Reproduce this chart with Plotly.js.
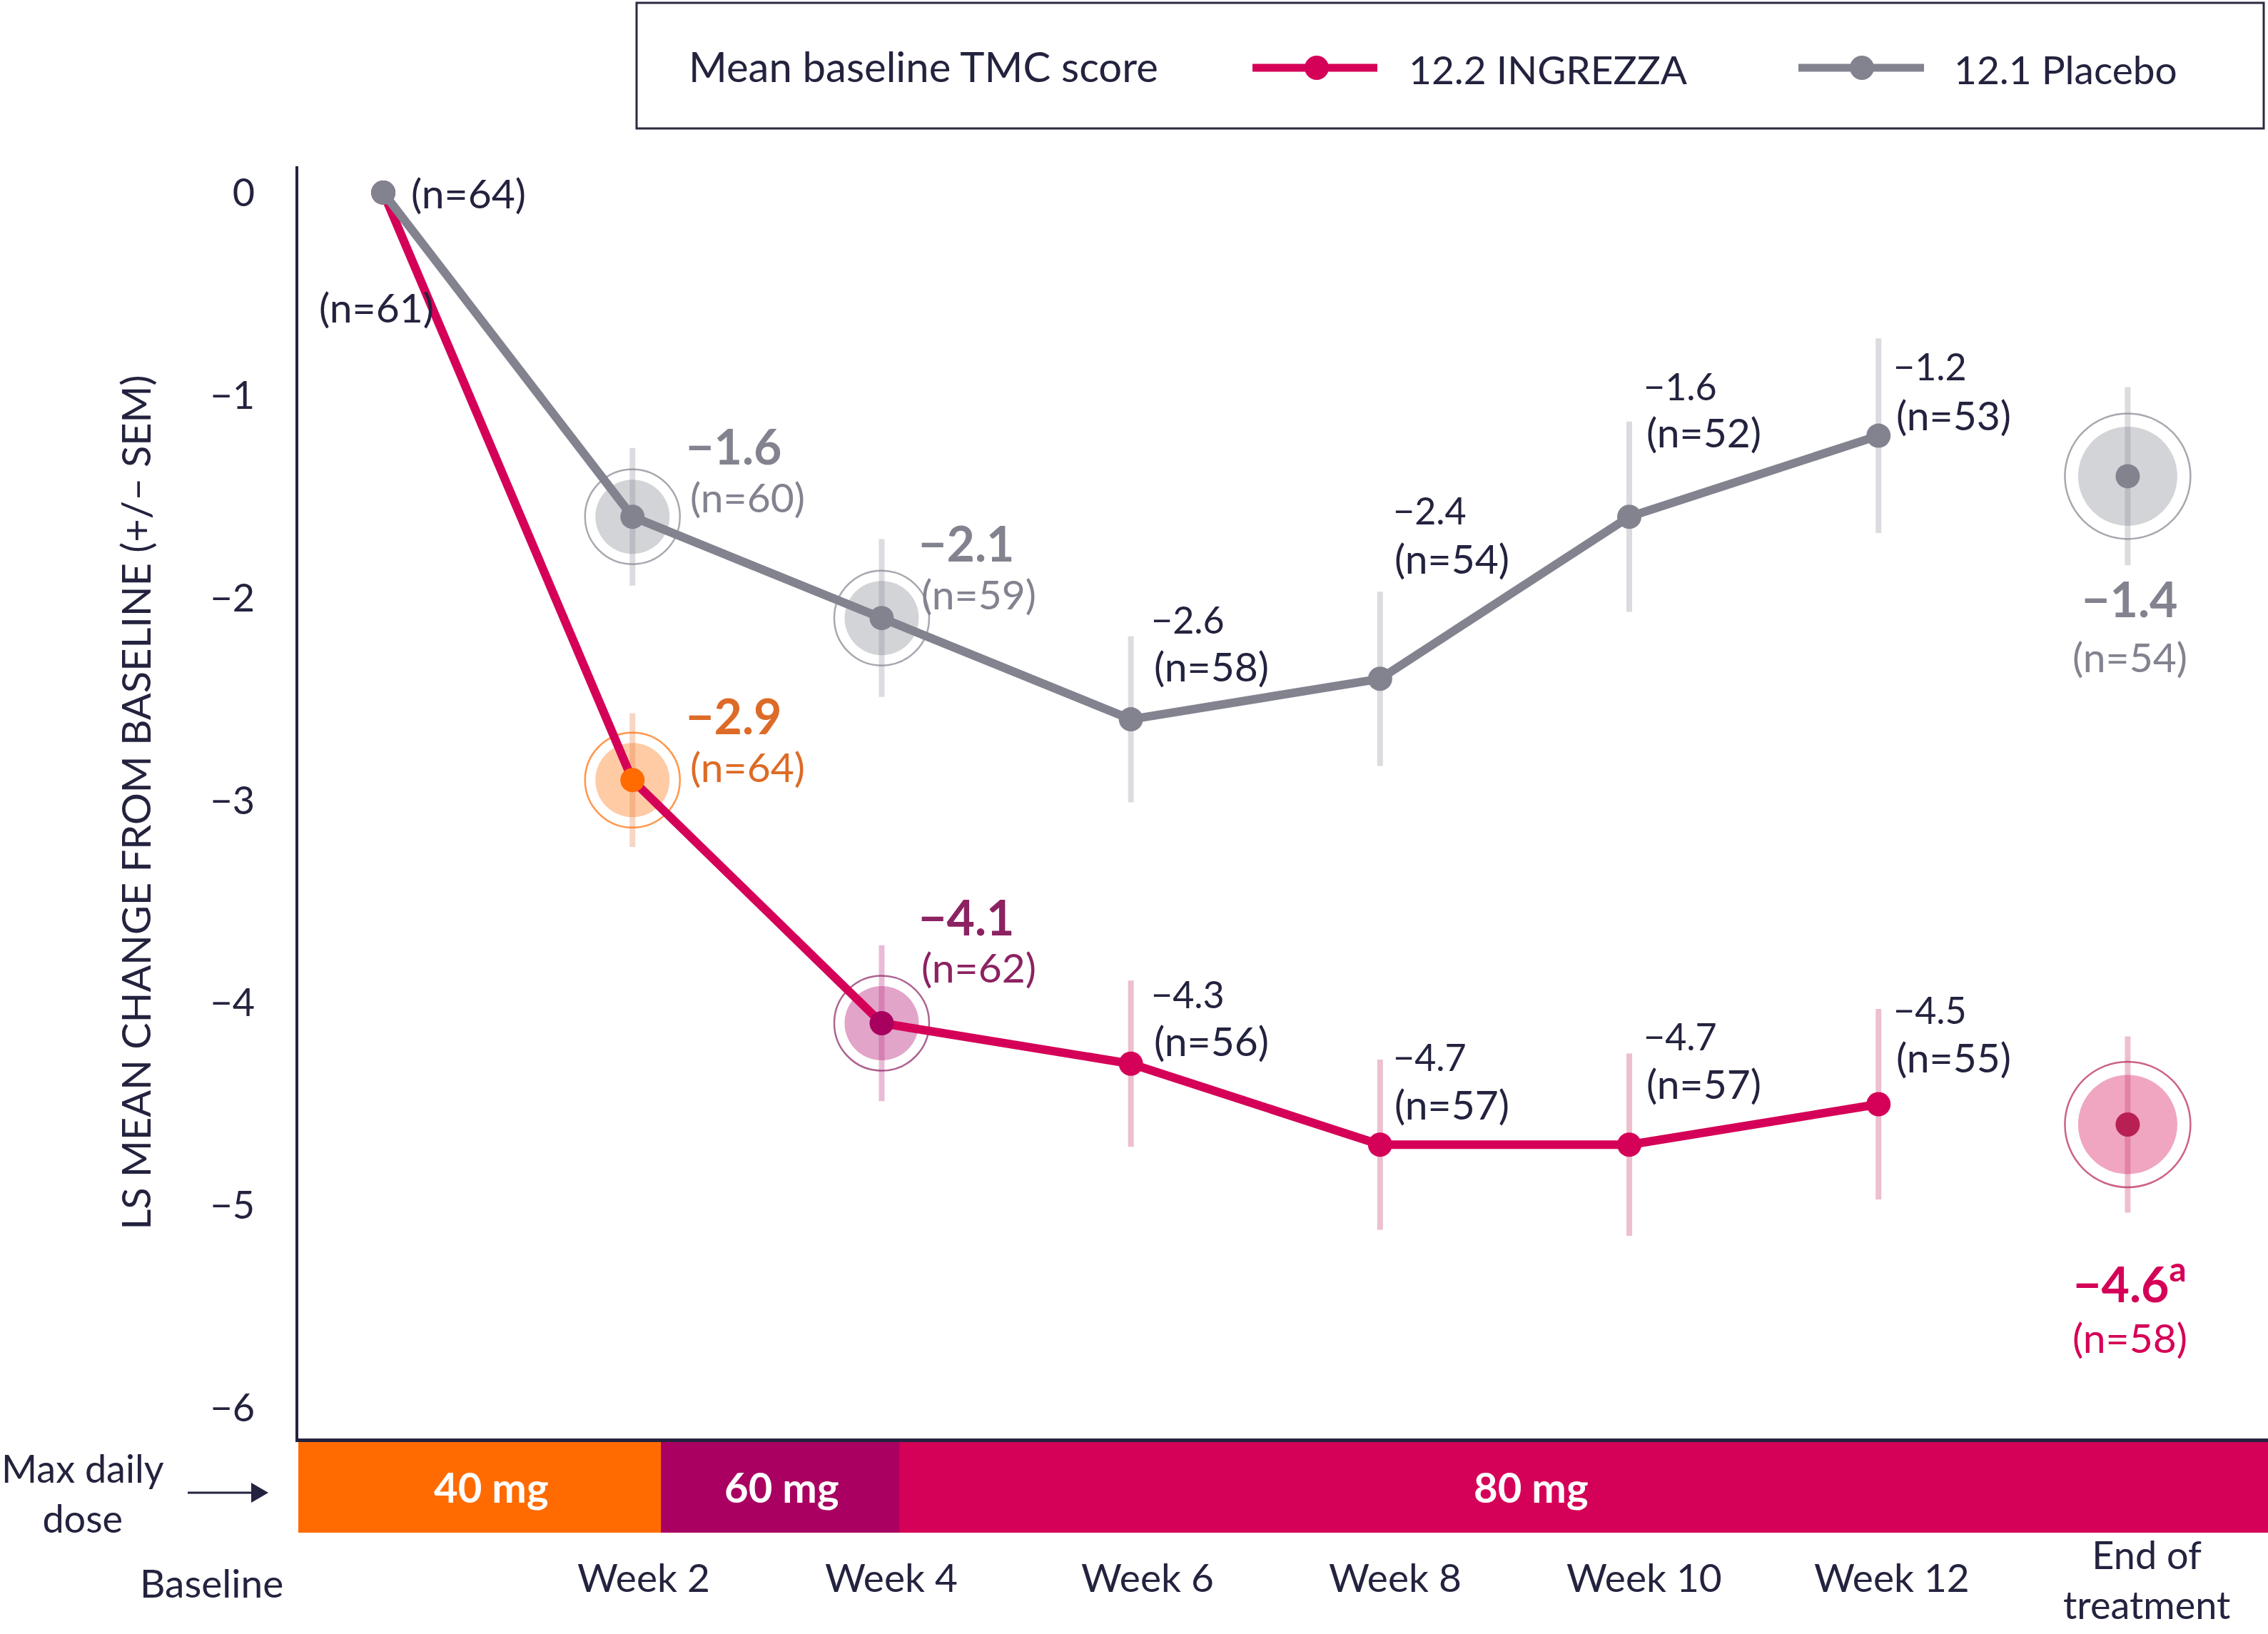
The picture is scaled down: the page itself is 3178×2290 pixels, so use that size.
<!DOCTYPE html>
<html>
<head>
<meta charset="utf-8">
<script src="https://cdn.plot.ly/plotly-3.0.1.min.js"></script>
<style>html,body{margin:0;padding:0;background:#fff;}#chart{width:3178px;height:2290px;}</style>
</head>
<body>
<div id="chart"></div>
<script>
// ---------------- DATA ----------------
const timepoints = ['Baseline', 'Week 2', 'Week 4', 'Week 6', 'Week 8', 'Week 10', 'Week 12', 'End of<br>treatment'];
const ingrezzaValues = [0, -2.9, -4.1, -4.3, -4.7, -4.7, -4.5, -4.6];
const placeboValues  = [0, -1.6, -2.1, -2.6, -2.4, -1.6, -1.2, -1.4];
const ingrezzaSEM = [0, 0.33, 0.385, 0.41, 0.42, 0.45, 0.47, 0.435];
const placeboSEM  = [0, 0.34, 0.39, 0.41, 0.43, 0.47, 0.48, 0.44];
const ingrezzaN = [64, 64, 62, 56, 57, 57, 55, 58];
const placeboN  = [61, 60, 59, 58, 54, 52, 53, 54];
const seriesNames = ['INGREZZA', 'Placebo'];
const baselineTMC = [12.2, 12.1];
const doseLabels = ['40 mg', '60 mg', '80 mg'];
const doseBounds = [-0.341, 1.114, 2.073, 7.563]; // in timepoint index units
const yTicks = [0, -1, -2, -3, -4, -5, -6];

// ---------------- STYLE ----------------
const W = 3178, H = 2290, ML = 418, MR = 0, MT = 233, MB = 274;
const PW = W - ML - MR, PH = H - MT - MB;
const px = x => (x - ML) / PW;
const py = y => (H - MB - y) / PH;
const FONT = 'Lato, "Noto Sans", "DejaVu Sans", sans-serif';
const NAVY = '#23233F';
const RED = '#D50057';
const GREY = '#82838F';
const XR = [doseBounds[0], doseBounds[3]];

const ingDotColors = [RED, '#FF6B00', '#A8005F', RED, RED, RED, RED, '#B81F53'];
const ingFillColors = [null, '#FDB57F', '#D67EB0', null, null, null, null, '#EA7FA7'];
const ingRingColors = [null, '#FF6B00', '#8C2262', null, null, null, null, '#B81F53'];
const ingErrColors = ['rgba(0,0,0,0)', 'rgba(230,120,60,0.30)', 'rgba(190,60,140,0.35)', 'rgba(200,60,110,0.33)', 'rgba(200,60,110,0.33)', 'rgba(200,60,110,0.33)', 'rgba(200,60,110,0.33)', 'rgba(200,60,110,0.33)'];
const ingLabelColors = [NAVY, '#DD6B27', '#8C2262', NAVY, NAVY, NAVY, NAVY, RED];
const plaFillColors = [null, '#C1C2C7', '#C1C2C7', null, null, null, null, '#C1C2C7'];
const plaRingColors = [null, GREY, GREY, null, null, null, null, GREY];
const plaErrColors = ['rgba(0,0,0,0)'].concat(Array(7).fill('rgba(130,131,143,0.28)'));
const plaLabelColors = [NAVY, GREY, GREY, NAVY, NAVY, NAVY, NAVY, GREY];
const highlight = [false, true, true, false, false, false, false, true];
const fillSize = [0, 104, 104, 0, 0, 0, 0, 139];
const ringSize = [0, 133, 133, 0, 0, 0, 0, 176];

// label offsets [dx, dyUp, anchor] for value label and n label
const plaValOff = [null, [73, 100, 'left'], [50, 106, 'left'], [26, 140, 'left'], [16, 236, 'left'], [18, 183, 'left'], [19, 98, 'left'], [3, -171, 'center']];
const plaNOff   = [[-10, -160, 'center'], [79, 28, 'left'], [54, 34, 'left'], [30, 75, 'left'], [18, 169, 'left'], [22, 119, 'left'], [23, 30, 'left'], [3, -253, 'center']];
const ingValOff = [null, [73, 91, 'left'], [50, 149, 'left'], [26, 98, 'left'], [16, 123, 'left'], [18, 152, 'left'], [19, 133, 'left'], [3, -218, 'center']];
const ingNOff   = [[37, 0, 'left'], [79, 19, 'left'], [54, 79, 'left'], [30, 33, 'left'], [18, 57, 'left'], [22, 86, 'left'], [23, 67, 'left'], [3, -298, 'center']];
const tickShift = [-241, 16, 14, 23, 21, 21, 19, 27];
const doseLabelX = [0.435, 1.598, 4.605];
const doseColors = ['#FF6B00', '#A90061', '#D50057'];

const xIdx = timepoints.map((_, i) => i);
const last = timepoints.length - 1;

// ---------------- TRACES ----------------
const traces = [];
function addSeries(vals, sem, fills, rings, errs) {
  traces.push({x: xIdx, y: vals, mode: 'markers', hoverinfo: 'skip', showlegend: false,
    marker: {size: fillSize, color: fills.map(c => c || 'rgba(0,0,0,0)'), line: {width: 0}}});
  xIdx.forEach(i => {
    if (!sem[i]) return;
    traces.push({x: [i], y: [vals[i]], mode: 'markers', hoverinfo: 'skip', showlegend: false,
      marker: {size: 1, color: 'rgba(0,0,0,0)'},
      error_y: {type: 'data', array: [sem[i]], visible: true, thickness: 8, width: 0, color: errs[i]}});
  });
  traces.push({x: xIdx, y: vals, mode: 'markers', hoverinfo: 'skip', showlegend: false,
    marker: {symbol: 'circle-open', size: ringSize, color: rings.map(c => c || 'rgba(0,0,0,0)'), line: {width: 2.5}}});
}
addSeries(ingrezzaValues, ingrezzaSEM, ingFillColors, ingRingColors, ingErrColors);
addSeries(placeboValues, placeboSEM, plaFillColors, plaRingColors, plaErrColors);

traces.push({name: '12.2 ' + seriesNames[0], x: xIdx.slice(0, last), y: ingrezzaValues.slice(0, last), mode: 'lines+markers',
  line: {color: RED, width: 12}, marker: {size: 34, color: ingDotColors.slice(0, last)}, showlegend: false});
traces.push({x: [last], y: [ingrezzaValues[last]], mode: 'markers', marker: {size: 34, color: ingDotColors[last]}, showlegend: false});
traces.push({name: '12.1 ' + seriesNames[1], x: xIdx.slice(0, last), y: placeboValues.slice(0, last), mode: 'lines+markers',
  line: {color: GREY, width: 12}, marker: {size: 34, color: GREY}, showlegend: false});
traces.push({x: [last], y: [placeboValues[last]], mode: 'markers', marker: {size: 34, color: GREY}, showlegend: false});

// ---------------- ANNOTATIONS ----------------
const fmt = v => '\u2212' + Math.abs(v).toFixed(1);
const ann = [];
function addLabels(vals, ns, valOff, nOff, colors, supFinal) {
  vals.forEach((v, i) => {
    if (valOff[i]) {
      const o = valOff[i];
      let t = fmt(v);
      if (highlight[i]) t = '<b>' + t + (supFinal && i === last ? '<sup>a</sup>' : '') + '</b>';
      ann.push({x: i, y: v, xref: 'x', yref: 'y', text: t, showarrow: false, xanchor: o[2], yanchor: 'middle',
        xshift: o[0], yshift: o[1], font: {family: FONT, size: highlight[i] ? 68 : 52, color: highlight[i] ? colors[i] : NAVY}});
    }
    const n = nOff[i];
    ann.push({x: i, y: v, xref: 'x', yref: 'y', text: '(n=' + ns[i] + ')', showarrow: false, xanchor: n[2], yanchor: 'middle',
      xshift: n[0], yshift: n[1], font: {family: FONT, size: 57, color: colors[i]}});
  });
}
addLabels(placeboValues, placeboN, plaValOff, plaNOff, plaLabelColors, false);
addLabels(ingrezzaValues, ingrezzaN, ingValOff, ingNOff, ingLabelColors, true);

// x tick labels
timepoints.forEach((t, i) => {
  const two = t.indexOf('<br>') >= 0;
  ann.push({x: i, y: py(two ? 2213 : (i === 0 ? 2218 : 2210)), xref: 'x', yref: 'paper', text: t, showarrow: false,
    xanchor: 'center', yanchor: 'middle', xshift: tickShift[i], borderpad: 0,
    font: {family: FONT, size: two ? 54 : 55, color: NAVY}});
});

// dose bar labels
doseLabels.forEach((d, i) => {
  ann.push({x: doseLabelX[i], y: py(2083), xref: 'x', yref: 'paper', text: '<b>' + d + '</b>', showarrow: false,
    xanchor: 'center', yanchor: 'middle', font: {family: FONT, size: 58, color: '#FFFFFF'}});
});
ann.push({x: px(116), y: py(2092), xref: 'paper', yref: 'paper', text: 'Max daily<br>dose', showarrow: false,
  xanchor: 'center', yanchor: 'middle', font: {family: FONT, size: 54, color: NAVY}});

// legend (manual)
ann.push({x: px(963), y: py(93), xref: 'paper', yref: 'paper', text: 'Mean baseline TMC score', showarrow: false,
  xanchor: 'left', yanchor: 'middle', font: {family: FONT, size: 58, color: NAVY}});
ann.push({x: px(1972), y: py(97), xref: 'paper', yref: 'paper', text: baselineTMC[0].toFixed(1) + ' ' + seriesNames[0], showarrow: false,
  xanchor: 'left', yanchor: 'middle', font: {family: FONT, size: 55, color: NAVY}});
ann.push({x: px(2736), y: py(97), xref: 'paper', yref: 'paper', text: baselineTMC[1].toFixed(1) + ' ' + seriesNames[1], showarrow: false,
  xanchor: 'left', yanchor: 'middle', font: {family: FONT, size: 55, color: NAVY}});

// ---------------- SHAPES ----------------
const shapes = [];
doseLabels.forEach((d, i) => {
  shapes.push({type: 'rect', xref: 'x', yref: 'paper', x0: doseBounds[i], x1: doseBounds[i + 1], y0: py(2148), y1: py(2019),
    fillcolor: doseColors[i], line: {width: 0}, layer: 'below'});
});
shapes.push({type: 'line', xref: 'paper', yref: 'paper', x0: px(263), x1: px(355), y0: py(2092), y1: py(2092),
  line: {color: NAVY, width: 3}});
shapes.push({type: 'path', xref: 'paper', yref: 'paper',
  path: 'M ' + px(352) + ' ' + py(2078) + ' L ' + px(376) + ' ' + py(2092) + ' L ' + px(352) + ' ' + py(2106) + ' Z',
  fillcolor: NAVY, line: {width: 0}});
shapes.push({type: 'rect', xref: 'paper', yref: 'paper', x0: px(892), x1: px(3172), y0: py(180), y1: py(4),
  line: {color: '#2B2B40', width: 3}, fillcolor: 'rgba(0,0,0,0)'});
[[1755, 1930, 1845, RED], [2520, 2696, 2609, GREY]].forEach(s => {
  shapes.push({type: 'line', xref: 'paper', yref: 'paper', x0: px(s[0]), x1: px(s[1]), y0: py(95), y1: py(95),
    line: {color: s[3], width: 11}});
  shapes.push({type: 'circle', xref: 'paper', yref: 'paper', x0: px(s[2] - 17), x1: px(s[2] + 17), y0: py(112), y1: py(78),
    fillcolor: s[3], line: {width: 0}});
});

// ---------------- LAYOUT ----------------
const layout = {
  width: W, height: H,
  margin: {l: ML, r: MR, t: MT, b: MB, pad: 0},
  paper_bgcolor: '#FFFFFF', plot_bgcolor: '#FFFFFF',
  font: {family: FONT, color: NAVY, size: 52},
  showlegend: false,
  xaxis: {range: XR, showgrid: false, zeroline: false, showticklabels: false, ticks: '',
    showline: true, linecolor: NAVY, linewidth: 5, fixedrange: true},
  yaxis: {range: [-6.15, 0.13], tickvals: yTicks, ticktext: yTicks.map(v => v === 0 ? '0' : '\u2212' + Math.abs(v)),
    showgrid: false, zeroline: false, ticks: '', ticklabelstandoff: 46,
    tickfont: {family: FONT, size: 54, color: NAVY},
    showline: true, linecolor: NAVY, linewidth: 4,
    title: {text: 'LS MEAN CHANGE FROM BASELINE (+/\u2013 SEM)', standoff: 66, font: {family: FONT, size: 56, color: NAVY}}},
  annotations: ann,
  shapes: shapes
};

Plotly.newPlot('chart', traces, layout, {staticPlot: true, displayModeBar: false});
</script>
</body>
</html>
